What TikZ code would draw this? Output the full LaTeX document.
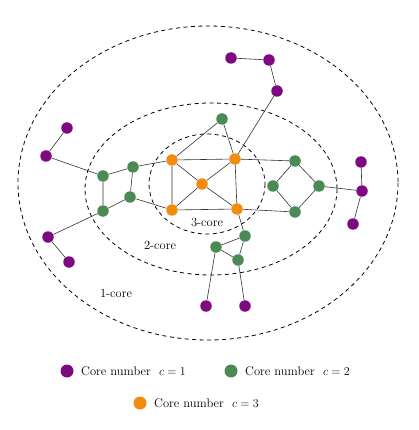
\documentclass[tikz,border=0pt]{standalone}
\usetikzlibrary{backgrounds}
\definecolor{cpur}{HTML}{7E0A82}
\definecolor{cgrn}{HTML}{4A8A55}
\definecolor{corg}{HTML}{F28C0F}
\begin{document}
\begin{tikzpicture}[x=1pt,y=-1pt,
  vp/.style={circle,fill=cpur,inner sep=0pt,minimum size=11.5pt},
  vg/.style={circle,fill=cgrn,inner sep=0pt,minimum size=11.5pt},
  vo/.style={circle,fill=corg,inner sep=0pt,minimum size=11.5pt},
  ed/.style={draw=black!80,line width=0.6pt},
  ring/.style={line width=0.8pt,dash pattern=on 4pt off 3.5pt},
  lbl/.style={font=\fontsize{12.5}{14}\selectfont,inner sep=0pt}]
\useasboundingbox (0,0) rectangle (418,430);
% nodes
\node[vp] (p1) at (231,58) {};
\node[vp] (p2) at (269,60) {};
\node[vp] (p3) at (277,91) {};
\node[vg] (g0) at (222,119) {};
\node[vp] (p4) at (67,128) {};
\node[vp] (p5) at (46,156) {};
\node[vg] (g1) at (103,176) {};
\node[vg] (g2) at (133,167) {};
\node[vg] (g3) at (130,197) {};
\node[vg] (g4) at (103,211) {};
\node[vp] (p6) at (48,237) {};
\node[vp] (p7) at (69,262) {};
\node[vo] (o1) at (172,160) {};
\node[vo] (o2) at (235,159) {};
\node[vo] (o3) at (202,184) {};
\node[vo] (o4) at (172,210) {};
\node[vo] (o5) at (237,209) {};
\node[vg] (g5) at (295,161) {};
\node[vg] (g6) at (273,186) {};
\node[vg] (g7) at (319,186) {};
\node[vg] (g8) at (295,212) {};
\node[vp] (p8) at (361,162) {};
\node[vp] (p9) at (362,191) {};
\node[vp] (p10) at (353,224) {};
\node[vg] (g9) at (245,236) {};
\node[vg] (g10) at (216,247) {};
\node[vg] (g11) at (238,260) {};
\node[vp] (p11) at (206,306) {};
\node[vp] (p12) at (245,306) {};
\begin{scope}[on background layer]
% rings
\draw[ring] (208,183) ellipse [x radius=190, y radius=157];
\draw[ring] (211,189) ellipse [x radius=126, y radius=86];
\draw[ring] (207,184) ellipse [x radius=58, y radius=50];
% edges
\draw[ed] (p1)--(p2) (p2)--(p3) (p3)--(o2)
  (g0)--(o1) (g0)--(o2)
  (p4)--(p5) (p5)--(g1)
  (g1)--(g2) (g2)--(o1) (g2)--(g3) (g1)--(g4) (g4)--(g3) (g3)--(o4)
  (g4)--(p6) (p6)--(p7)
  (o1)--(o2) (o1)--(o4) (o2)--(o5) (o4)--(o5)
  (o3)--(o1) (o3)--(o2) (o3)--(o4) (o3)--(o5)
  (o2)--(g5) (g5)--(g6) (g5)--(g7) (g6)--(g8) (g7)--(g8) (o5)--(g8)
  (g7)--(p9) (p8)--(p9) (p9)--(p10)
  (o5)--(g9) (g9)--(g10) (g10)--(g11) (g9)--(g11)
  (g10)--(p11) (g11)--(p12);
\end{scope}
% labels
\node[lbl] (l3) at (207,222) {3-core};
\node[lbl] (l2) at (160,245) {2-core};
\node[lbl] (l1) at (116,293) {1-core};
% legend
\node[vp,minimum size=13pt] (k1) at (67,371) {};
\node[lbl,anchor=west] (t1) at (81,371) {Core number\ \ $c=1$};
\node[vg,minimum size=13pt] (k2) at (231,371) {};
\node[lbl,anchor=west] (t2) at (245,371) {Core number\ \ $c=2$};
\node[vo,minimum size=13pt] (k3) at (140,403) {};
\node[lbl,anchor=west] (t3) at (154,403) {Core number\ \ $c=3$};
\end{tikzpicture}
\end{document}
